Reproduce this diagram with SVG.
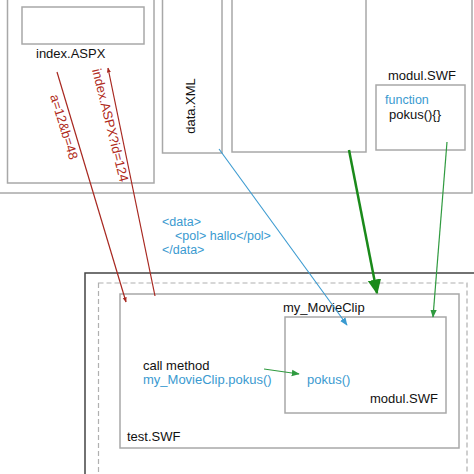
<svg xmlns="http://www.w3.org/2000/svg" width="474" height="474" viewBox="0 0 474 474">
<defs>
<style>
.box{fill:none;stroke:#a8a8a8;stroke-width:1.5}
.t{font-family:"Liberation Sans",Arial,sans-serif;font-size:13px;fill:#111}
.b{font-family:"Liberation Sans",Arial,sans-serif;font-size:12.5px;fill:#3a9ad0}
.r{font-family:"Liberation Sans",Arial,sans-serif;font-size:13px;fill:#b02a20}
.red{stroke:#a82820;stroke-width:1.2;fill:none}
.blue{stroke:#3a9ad0;stroke-width:1.1;fill:none}
.green{stroke:#2f9a3f;stroke-width:1.2;fill:none}
</style>
<marker id="ar" viewBox="0 0 10 10" refX="9" refY="5" markerWidth="5" markerHeight="5" orient="auto" markerUnits="userSpaceOnUse"><path d="M0,1 L10,5 L0,9 z" fill="#a82820"/></marker>
<marker id="ab" viewBox="0 0 10 10" refX="9" refY="5" markerWidth="8" markerHeight="8" orient="auto" markerUnits="userSpaceOnUse"><path d="M0,1 L10,5 L0,9 z" fill="#3a9ad0"/></marker>
<marker id="ag" viewBox="0 0 10 10" refX="9" refY="5" markerWidth="8" markerHeight="8" orient="auto" markerUnits="userSpaceOnUse"><path d="M0,1 L10,5 L0,9 z" fill="#2f9a3f"/></marker>
<marker id="agt" viewBox="0 0 10 10" refX="9" refY="5" markerWidth="15" markerHeight="15" orient="auto" markerUnits="userSpaceOnUse"><path d="M0,0.5 L10,5 L0,9.5 z" fill="#1a8a1a"/></marker>
</defs>
<rect width="474" height="474" fill="#fff"/>
<g id="server">
<rect class="box" x="-5" y="-5" width="477" height="198"/>
</g>
<g id="index">
<rect class="box" x="7.5" y="-5" width="146.5" height="188"/>
<rect class="box" x="22" y="7" width="122" height="37"/>
<text class="t" x="36" y="58">index.ASPX</text>
</g>
<g id="data">
<rect class="box" x="162.5" y="-5" width="59.5" height="158"/>
<text class="t" transform="translate(194.5 106) rotate(-90)" text-anchor="middle">data.XML</text>
</g>
<g id="bigbox">
<rect class="box" x="232" y="-5" width="134" height="157"/>
</g>
<g id="modul">
<text class="t" x="388" y="80">modul.SWF</text>
<rect class="box" x="376" y="85" width="89" height="65"/>
<text class="b" x="385" y="104">function</text>
<text class="t" x="389" y="119">pokus(){}</text>
</g>
<g id="xml">
<text class="b" x="162" y="226">&lt;data&gt;</text>
<text class="b" x="175" y="240">&lt;pol&gt; hallo&lt;/pol&gt;</text>
<text class="b" x="162" y="254">&lt;/data&gt;</text>
</g>
<g id="test">
<rect x="85" y="273" width="400" height="220" fill="none" stroke="#444" stroke-width="1.5"/>
<rect x="98.5" y="283" width="368.5" height="210" fill="none" stroke="#b0b0b0" stroke-width="1.2" stroke-dasharray="5,3"/>
<rect class="box" x="120" y="294" width="339" height="154"/>
<text class="t" x="143" y="370">call method</text>
<text class="b" x="143" y="384" style="font-size:13px">my_MovieClip.pokus()</text>
<text class="t" x="127" y="441">test.SWF</text>
</g>
<g id="movieclip">
<text class="t" x="283" y="312">my_MovieClip</text>
<rect class="box" x="285" y="317" width="161" height="96"/>
<text class="b" x="307" y="384" style="font-size:13px">pokus()</text>
<text class="t" x="370" y="403">modul.SWF</text>
</g>
<g id="connectors">
<line class="red" x1="57" y1="72" x2="126" y2="302" marker-end="url(#ar)"/>
<line class="red" x1="155" y1="296" x2="108" y2="68" marker-end="url(#ar)"/>
<line class="blue" x1="219" y1="149" x2="347" y2="325" marker-end="url(#ab)"/>
<line x1="349" y1="150" x2="377" y2="293" stroke="#1a8a1a" stroke-width="2.5" marker-end="url(#agt)"/>
<line class="green" x1="447" y1="142" x2="433" y2="317" marker-end="url(#ag)"/>
<line class="green" x1="264" y1="369" x2="299" y2="374" marker-end="url(#ag)"/>
<text class="r" transform="translate(50 96) rotate(73)">a=12&amp;b=48</text>
<text class="r" transform="translate(92 70) rotate(76)">index.ASPX?id=124</text>
</g>
</svg>
